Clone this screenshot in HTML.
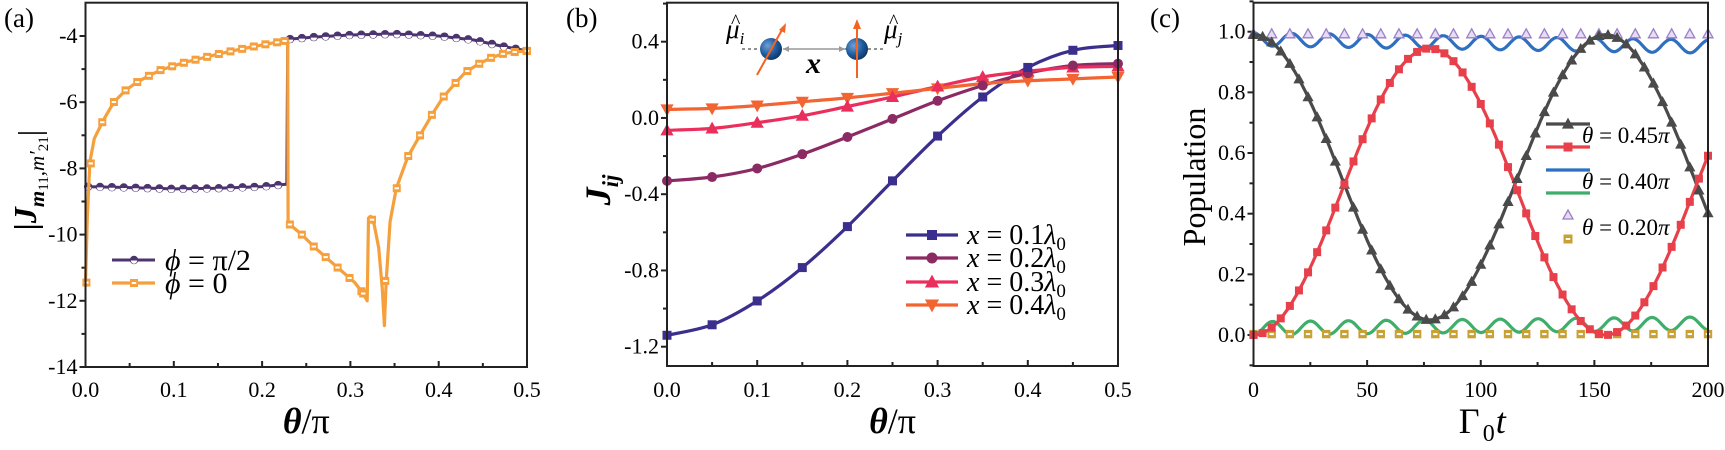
<!DOCTYPE html>
<html><head><meta charset="utf-8">
<style>
html,body{margin:0;padding:0;background:#fff;}
svg, svg text{font-family:"Liberation Serif","DejaVu Serif",serif;}
</style></head>
<body>
<svg id="s" width="1725" height="445" xmlns="http://www.w3.org/2000/svg" font-family="Liberation Serif, serif"></svg>
<script>
const S=document.getElementById('s');let out='<g font-family="Liberation Serif, DejaVu Serif, serif">';
function add(x){out+=x;}
function lin(d0,d1,p0,p1){return v=>p0+(v-d0)/(d1-d0)*(p1-p0);}
function interp(pts,x){for(let i=0;i<pts.length-1;i++){if(x>=pts[i][0]&&x<=pts[i+1][0]){const t=(x-pts[i][0])/(pts[i+1][0]-pts[i][0]);return pts[i][1]+t*(pts[i+1][1]-pts[i][1]);}}return pts[pts.length-1][1];}
function smooth(P){let d='M'+P[0][0].toFixed(1)+','+P[0][1].toFixed(1);for(let i=0;i<P.length-1;i++){const p0=P[Math.max(i-1,0)],p1=P[i],p2=P[i+1],p3=P[Math.min(i+2,P.length-1)];d+=' C'+(p1[0]+(p2[0]-p0[0])/6).toFixed(1)+','+(p1[1]+(p2[1]-p0[1])/6).toFixed(1)+' '+(p2[0]-(p3[0]-p1[0])/6).toFixed(1)+','+(p2[1]-(p3[1]-p1[1])/6).toFixed(1)+' '+p2[0].toFixed(1)+','+p2[1].toFixed(1);}return d;}
function poly(P){return 'M'+P.map(p=>p[0].toFixed(1)+','+p[1].toFixed(1)).join(' L');}
function frame(L,R,T,B){add(`<rect x="${L}" y="${T}" width="${R-L}" height="${B-T}" fill="none" stroke="#222" stroke-width="2"/>`);}
function sq(x,y,c,open,s=4){add(`<rect x="${x-s}" y="${y-s}" width="${2*s}" height="${2*s}" fill="${c}"/>`);if(open)add(`<rect x="${x-2.2}" y="${y-1}" width="4.4" height="2" fill="#fff"/>`);}
function circ(x,y,c,open){add(`<circle cx="${x}" cy="${y}" r="4.2" fill="${c}"/>`);if(open)add(`<path d="M${x-3.2},${y+0.5} A3.2,3.2 0 0 0 ${x+3.2},${y+0.5} Z" fill="#fff"/>`);}
function tri(x,y,c,down,s=5,fill){const d=down?-1:1;add(`<path d="M${x},${y-s*d} L${x+s},${y+s*0.8*d} L${x-s},${y+s*0.8*d} Z" fill="${fill||c}" stroke="${c}" stroke-width="1.3"/>`);}
const TX='font-family="Liberation Serif, serif"';
const TL=397, XL=433;

/* ---------- Panel (a) ---------- */
{const L=85.5,R=527,T=2.7,B=367;const X=lin(0,0.5,L,R),Y=lin(-4,-14,36,367);
for(let v=0;v<=0.5001;v+=0.05){const big=Math.round(v*100)%10==0;add(`<line x1="${X(v)}" y1="${B}" x2="${X(v)}" y2="${B-(big?6:4)}" stroke="#222" stroke-width="2"/>`);if(big)add(`<text ${TX} x="${X(v)}" y="${TL}" font-size="22" text-anchor="middle">${v.toFixed(1)}</text>`);}
for(let v=-4;v>=-14;v-=1){const big=v%2==0;add(`<line x1="${L}" y1="${Y(v)}" x2="${L-(big?6:4)}" y2="${Y(v)}" stroke="#222" stroke-width="2"/>`);if(big)add(`<text ${TX} x="${L-8}" y="${Y(v)+7}" font-size="22" text-anchor="end">${v}</text>`);}
const pur=[[0,-8.55],[0.05,-8.58],[0.1,-8.62],[0.15,-8.6],[0.2,-8.55],[0.227,-8.48]];
const pur2=[[0.229,-4.1],[0.26,-4.03],[0.3,-3.97],[0.35,-3.94],[0.4,-4.0],[0.44,-4.12],[0.47,-4.3],[0.5,-4.45]];
const or1=[[0,-11.5],[0.002,-9.5],[0.005,-7.8],[0.01,-7.1],[0.02,-6.55],[0.032,-6.0],[0.045,-5.65],[0.058,-5.4],[0.072,-5.2],[0.085,-5.03],[0.1,-4.9],[0.115,-4.78],[0.13,-4.68],[0.15,-4.55],[0.17,-4.43],[0.19,-4.32],[0.21,-4.22],[0.227,-4.15]];
const or2=[[0.229,-4.15],[0.2295,-9.65],[0.245,-10.0],[0.26,-10.4],[0.275,-10.75],[0.29,-11.1],[0.305,-11.45],[0.315,-11.8],[0.319,-12.0],[0.3205,-9.5],[0.323,-9.45],[0.327,-9.7],[0.332,-10.4],[0.336,-11.6],[0.3385,-12.75],[0.3405,-11.4],[0.345,-9.6],[0.352,-8.6],[0.365,-7.65],[0.38,-6.95],[0.393,-6.35],[0.405,-5.85],[0.418,-5.45],[0.43,-5.1],[0.445,-4.85],[0.46,-4.65],[0.475,-4.52],[0.49,-4.47],[0.5,-4.45]];
const PC='#4b3470',OC='#f5a03c';
add(`<path d="${poly(pur.map(p=>[X(p[0]),Y(p[1])]))} L${X(0.228)},${Y(-8.48)} L${X(0.229)},${Y(-4.1)} ${poly(pur2.map(p=>[X(p[0]),Y(p[1])])).replace('M','L')}" fill="none" stroke="${PC}" stroke-width="3"/>`);
for(let x=0.003;x<0.5;x+=0.01345){const v=x<0.228?interp(pur,x):interp(pur2,x);circ(X(x),Y(v),PC,true);}
add(`<path d="${poly(or1.map(p=>[X(p[0]),Y(p[1])]))} ${poly(or2.map(p=>[X(p[0]),Y(p[1])])).replace('M','L')}" fill="none" stroke="${OC}" stroke-width="3.2" stroke-linejoin="round"/>`);
const om=[[0.001,-11.45],[0.006,-7.85]];for(let x=0.019;x<0.226;x+=0.0132)om.push([x,interp(or1,x)]);om.push([0.2255,-4.15]);
for(let x=0.2315;x<0.318;x+=0.0135)om.push([x,interp(or2,x)]);om.push([0.3145,-11.78],[0.3245,-9.55],[0.3395,-11.4],[0.3525,-8.6]);for(let x=0.3655;x<0.5;x+=0.0134)om.push([x,interp(or2,x)]);om.push([0.5,-4.45]);
om.forEach(p=>sq(X(p[0]),Y(p[1]),OC,true));
add(`<line x1="112" y1="260" x2="155" y2="260" stroke="${PC}" stroke-width="3"/>`);circ(134,260,PC,true);
add(`<line x1="112" y1="283" x2="155" y2="283" stroke="${OC}" stroke-width="3.2"/>`);sq(134,283,OC,true);
add(`<text ${TX} x="165" y="270" font-size="30" font-style="italic">ϕ <tspan font-style="normal">= π/2</tspan></text>`);
add(`<text ${TX} x="165" y="293" font-size="30" font-style="italic">ϕ <tspan font-style="normal">= 0</tspan></text>`);
frame(L,R,T,B);
add(`<text ${TX} x="4" y="27" font-size="27">(a)</text>`);
add(`<text ${TX} transform="translate(36,180) rotate(-90)" font-size="32" text-anchor="middle" font-weight="bold" font-style="italic">|J<tspan font-size="21" dy="8">m</tspan><tspan font-size="15" dy="4" font-style="normal" font-weight="normal">11</tspan><tspan font-size="21" dy="-4" font-weight="normal">,m′</tspan><tspan font-size="15" dy="4" font-style="normal" font-weight="normal">21</tspan><tspan dy="-8" font-style="normal" font-weight="normal">|</tspan></text>`);
add(`<text ${TX} x="${(L+R)/2}" y="${XL}" font-size="36" text-anchor="middle" font-style="italic" font-weight="bold">θ<tspan font-weight="normal" font-style="normal">/π</tspan></text>`);
}

/* ---------- Panel (b) ---------- */
{const L=667,R=1118,T=2.7,B=366;const X=lin(0,0.5,L,R),Y=lin(0.4,-1.2,41.7,346.7);
for(let v=0;v<=0.5001;v+=0.05){const big=Math.round(v*100)%10==0;add(`<line x1="${X(v)}" y1="${B}" x2="${X(v)}" y2="${B-(big?6:4)}" stroke="#222" stroke-width="2"/>`);if(big)add(`<text ${TX} x="${X(v)}" y="${TL}" font-size="22" text-anchor="middle">${v.toFixed(1)}</text>`);}
for(let i=0;i<=9;i++){const v=0.6-0.2*i;const big=i%2==1;add(`<line x1="${L}" y1="${Y(v)}" x2="${L-(big?6:4)}" y2="${Y(v)}" stroke="#222" stroke-width="2"/>`);if(big)add(`<text ${TX} x="${L-8}" y="${Y(v)+7}" font-size="22" text-anchor="end">${v.toFixed(1).replace('-0.0','0.0')}</text>`);}
const D=[['#3b2f8e',[-1.14,-1.085,-0.96,-0.785,-0.57,-0.33,-0.095,0.11,0.265,0.355,0.38],'s'],
['#8c2a64',[-0.33,-0.31,-0.265,-0.19,-0.1,-0.005,0.09,0.17,0.235,0.275,0.285],'c'],
['#ea2f5c',[-0.065,-0.055,-0.025,0.012,0.06,0.11,0.165,0.215,0.245,0.265,0.27],'t'],
['#f26432',[0.045,0.05,0.065,0.085,0.105,0.13,0.155,0.18,0.195,0.205,0.215],'v']];
D.forEach(d=>{const P=d[1].map((v,i)=>[X(i*0.05),Y(v)]);add(`<path d="${smooth(P)}" fill="none" stroke="${d[0]}" stroke-width="3.2"/>`);});
D.slice().reverse().forEach(d=>{d[1].forEach((v,i)=>{const x=X(i*0.05),y=Y(v);if(d[2]=='s')sq(x,y,d[0],false,4.5);else if(d[2]=='c')add(`<circle cx="${x}" cy="${y}" r="5" fill="${d[0]}"/>`);else tri(x,y,d[0],d[2]=='v',5.5);});});
const ly=[235,258,282,305],lab=['0.1','0.2','0.3','0.4'];
D.forEach((d,i)=>{add(`<line x1="906" y1="${ly[i]}" x2="958" y2="${ly[i]}" stroke="${d[0]}" stroke-width="3.2"/>`);const x=932,y=ly[i];if(d[2]=='s')sq(x,y,d[0],false,5);else if(d[2]=='c')add(`<circle cx="${x}" cy="${y}" r="5.5" fill="${d[0]}"/>`);else tri(x,y,d[0],d[2]=='v',6);
add(`<text ${TX} x="967" y="${y+9}" font-size="28" font-style="italic">x <tspan font-style="normal">= ${lab[i]}</tspan>λ<tspan font-size="19" dy="6" font-style="normal">0</tspan></text>`);});
/* inset */
add(`<defs><radialGradient id="g" cx="0.35" cy="0.35" r="0.7"><stop offset="0" stop-color="#6fa0d8"/><stop offset="0.6" stop-color="#1d5a9c"/><stop offset="1" stop-color="#0e3566"/></radialGradient></defs>`);
add(`<line x1="742" y1="49" x2="886" y2="49" stroke="#222" stroke-width="1" stroke-dasharray="3,3"/>`);
add(`<circle cx="771" cy="49" r="11" fill="url(#g)"/><circle cx="857" cy="49" r="11" fill="url(#g)"/>`);
add(`<line x1="783" y1="49" x2="845" y2="49" stroke="#999" stroke-width="1.5"/><path d="M783,49 l6,-3 v6 z M845,49 l-6,-3 v6z" fill="#999"/>`);
add(`<line x1="757" y1="75" x2="783" y2="28" stroke="#f26420" stroke-width="2"/><path d="M786,23 l-1,10 l-6,-3z" fill="#f26420"/>`);
add(`<line x1="857" y1="78" x2="857" y2="28" stroke="#f26420" stroke-width="2"/><path d="M857,19 l4,10 h-8z" fill="#f26420"/>`);
add(`<text ${TX} x="726" y="38" font-size="27" font-style="italic">μ<tspan font-size="17" dy="6">i</tspan></text><text ${TX} x="731" y="28" font-size="20">^</text>`);
add(`<text ${TX} x="884" y="38" font-size="27" font-style="italic">μ<tspan font-size="17" dy="6">j</tspan></text><text ${TX} x="889" y="28" font-size="20">^</text>`);
add(`<text ${TX} x="806" y="73" font-size="30" font-style="italic" font-weight="bold">x</text>`);
frame(L,R,T,B);
add(`<text ${TX} x="566" y="27" font-size="27">(b)</text>`);
add(`<text ${TX} transform="translate(610,190) rotate(-90)" font-size="36" text-anchor="middle" font-weight="bold" font-style="italic">J<tspan font-size="23" dy="8">ij</tspan></text>`);
add(`<text ${TX} x="${(L+R)/2}" y="${XL}" font-size="36" text-anchor="middle" font-style="italic" font-weight="bold">θ<tspan font-weight="normal" font-style="normal">/π</tspan></text>`);
}

/* ---------- Panel (c) ---------- */
{const L=1253.5,R=1708,T=2.7,B=366;const X=lin(0,200,L,R),Y=lin(1,0,31.7,335);
for(let v=0;v<=200;v+=25){const big=v%50==0;add(`<line x1="${X(v)}" y1="${B}" x2="${X(v)}" y2="${B-(big?6:4)}" stroke="#222" stroke-width="2"/>`);if(big)add(`<text ${TX} x="${X(v)}" y="${TL}" font-size="22" text-anchor="middle">${v}</text>`);}
for(let i=0;i<=12;i++){const v=1.1-0.1*i;const big=i%2==1;add(`<line x1="${L}" y1="${Y(v)}" x2="${L-(big?6:4)}" y2="${Y(v)}" stroke="#222" stroke-width="2"/>`);if(big)add(`<text ${TX} x="${L-8}" y="${Y(v)+7}" font-size="22" text-anchor="end">${Math.abs(v).toFixed(1)}</text>`);}
const w=Math.PI/155,p=16.7;
const blk=t=>0.05+0.94*Math.cos(w*t)**2, red=t=>0.945*Math.sin(w*t)**2;
const blu=t=>0.975+0.022*Math.cos(2*Math.PI*t/p)-0.00012*t, grn=t=>0.022-0.022*Math.cos(2*Math.PI*t/p)+0.00008*t;
function curve(f,c,wd){const P=[];for(let t=0;t<=200;t+=1)P.push([X(t),Y(f(t))]);add(`<path d="${poly(P)}" fill="none" stroke="${c}" stroke-width="${wd}"/>`);}
curve(grn,'#3fae6a',3.2);curve(blu,'#2f6fbf',3.2);
for(let t=0;t<=200;t+=8)sq(X(t),Y(0.003),'#c9a033',true,4.2);
for(let t=0;t<=200;t+=8)tri(X(t),Y(0.993),'#9b7fc9',false,5,'#e6dcf3');
curve(blk,'#4a4a4a',3.2);curve(red,'#e8404a',3.2);
for(let t=0;t<=200;t+=4)tri(X(t),Y(blk(t)),'#4a4a4a',false,4.5);
for(let t=0;t<=200;t+=4)sq(X(t),Y(red(t)),'#e8404a',false,4);
add(`<line x1="1546" y1="124" x2="1590" y2="124" stroke="#4a4a4a" stroke-width="3.2"/>`);tri(1568,124,'#4a4a4a',false,5);
add(`<line x1="1546" y1="147" x2="1590" y2="147" stroke="#e8404a" stroke-width="3.2"/>`);sq(1568,147,'#e8404a',false,4.5);
add(`<line x1="1546" y1="170" x2="1590" y2="170" stroke="#2f6fbf" stroke-width="3.2"/>`);
add(`<line x1="1546" y1="193" x2="1590" y2="193" stroke="#3fae6a" stroke-width="3.2"/>`);
tri(1568,215,'#9b7fc9',false,5,'#e6dcf3');sq(1568,239,'#c9a033',true,4.5);
[[143,'0.45'],[189,'0.40'],[235,'0.20']].forEach(a=>add(`<text ${TX} x="1582" y="${a[0]}" font-size="23" font-style="italic">θ <tspan font-style="normal">= ${a[1]}</tspan>π</text>`));
frame(L,R,T,B);
add(`<text ${TX} x="1150" y="27" font-size="27">(c)</text>`);
add(`<text ${TX} transform="translate(1205,177) rotate(-90)" font-size="32" text-anchor="middle">Population</text>`);
add(`<text ${TX} x="${(L+R)/2-22}" y="${XL}" font-size="36">Γ</text><text ${TX} x="${(L+R)/2+2}" y="${XL+8}" font-size="24">0</text><text ${TX} x="${(L+R)/2+15}" y="${XL}" font-size="36" font-style="italic">t</text>`);
}
out+='</g>';
S.innerHTML=out;
</script>
</body></html>
